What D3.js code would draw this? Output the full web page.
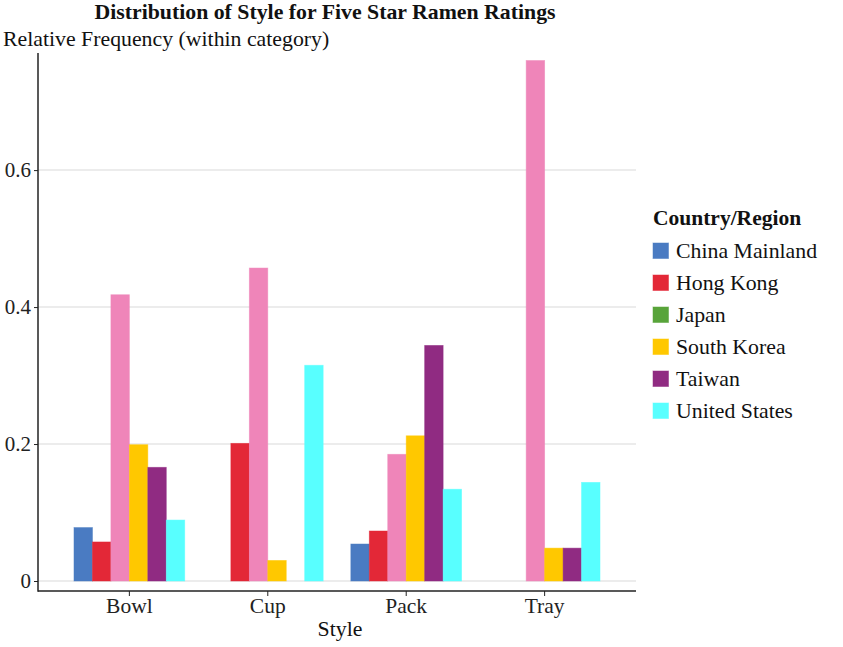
<!DOCTYPE html>
<html>
<head>
<meta charset="utf-8">
<script src="https://cdn.jsdelivr.net/npm/d3@7"></script>
<style>
  body { margin: 0; background: #fff; }
  text { font-family: "Liberation Serif", "Times New Roman", serif; }
</style>
</head>
<body>
<div id="viz"></div>
<script>
const width = 843, height = 647;

const styles = ["Bowl", "Cup", "Pack", "Tray"];
const countries = ["China Mainland", "Hong Kong", "Japan", "South Korea", "Taiwan", "United States"];
const legendColors = ["#4a7bc2", "#e32837", "#58a43a", "#ffc800", "#902b82", "#58ffff"];
// the bars for Japan are drawn pink in the source, while its legend swatch is green
const barColors = ["#4a7bc2", "#e32837", "#ef85b9", "#ffc800", "#902b82", "#58ffff"];

const chinaMainland = [0.078, 0, 0.054, 0];
const hongKong = [0.057, 0.201, 0.073, 0];
const japan = [0.418, 0.457, 0.185, 0.760];
const southKorea = [0.199, 0.030, 0.212, 0.048];
const taiwan = [0.166, 0, 0.344, 0.048];
const unitedStates = [0.089, 0.315, 0.134, 0.144];
const seriesValues = [chinaMainland, hongKong, japan, southKorea, taiwan, unitedStates];

const yTicks = [0, 0.2, 0.4, 0.6];

const svg = d3.select("#viz").append("svg").attr("width", width).attr("height", height);
const margin = {top: 53, right: 207, bottom: 56, left: 38};
const plotRight = width - margin.right;
const zeroY = 581, axisY = 591;

const x = d3.scaleBand().domain(styles).range([margin.left, plotRight])
  .paddingInner(0.2).paddingOuter(0.26);
const xs = d3.scaleBand().domain(countries).range([0, x.bandwidth()]);
const y = d3.scaleLinear().domain([0, 0.771]).range([zeroY, margin.top]);

// grid
svg.append("g").selectAll("line").data(yTicks).join("line")
  .attr("x1", margin.left).attr("x2", plotRight)
  .attr("y1", d => y(d)).attr("y2", d => y(d))
  .attr("stroke", "#e6e6e6").attr("stroke-width", 1.5);

// bars
const rows = [];
styles.forEach((s, i) => countries.forEach((c, j) => {
  if (seriesValues[j][i] > 0) rows.push({style: s, country: c, value: seriesValues[j][i], color: barColors[j]});
}));
svg.append("g").selectAll("rect").data(rows).join("rect")
  .attr("x", d => x(d.style) + xs(d.country))
  .attr("width", xs.bandwidth())
  .attr("y", d => y(d.value))
  .attr("height", d => y(0) - y(d.value))
  .attr("fill", d => d.color)
  .attr("stroke", d => d.color).attr("stroke-opacity", 0.6).attr("stroke-width", 0.8);

// y axis
const yAxis = svg.append("g").attr("transform", `translate(${margin.left},0)`)
  .call(d3.axisLeft(y).tickValues(yTicks).tickFormat(d => d === 0 ? "0" : d3.format(".1f")(d)).tickSize(4).tickPadding(3));
yAxis.select(".domain").remove();
yAxis.selectAll("text").attr("font-size", 21).attr("fill", "#222").style("font-family", "Liberation Serif, serif");
yAxis.selectAll(".tick line").attr("stroke", "#222");
svg.append("line").attr("x1", margin.left).attr("x2", margin.left)
  .attr("y1", margin.top).attr("y2", axisY + 0.75).attr("stroke", "#222").attr("stroke-width", 1.5);

// x axis
const xAxis = svg.append("g").attr("transform", `translate(0,${axisY})`)
  .call(d3.axisBottom(x).tickSize(5).tickPadding(2));
xAxis.select(".domain").remove();
xAxis.selectAll("text").attr("font-size", 21.5).attr("fill", "#222").style("font-family", "Liberation Serif, serif");
xAxis.selectAll(".tick line").attr("stroke", "#222");
svg.append("line").attr("x1", margin.left).attr("x2", plotRight)
  .attr("y1", axisY).attr("y2", axisY).attr("stroke", "#222").attr("stroke-width", 1.5);

// titles
svg.append("text").attr("x", 325).attr("y", 19).attr("text-anchor", "middle")
  .attr("font-size", 21.8).attr("font-weight", "bold").attr("fill", "#111")
  .text("Distribution of Style for Five Star Ramen Ratings");
svg.append("text").attr("x", 3).attr("y", 46).attr("font-size", 21.8).attr("fill", "#111")
  .text("Relative Frequency (within category)");
svg.append("text").attr("x", 340).attr("y", 636).attr("text-anchor", "middle")
  .attr("font-size", 21.8).attr("fill", "#111").text("Style");

// legend
const legend = svg.append("g").attr("transform", "translate(653,0)");
legend.append("text").attr("x", 0).attr("y", 225).attr("font-size", 21.5).attr("font-weight", "bold")
  .attr("fill", "#111").text("Country/Region");
const item = legend.selectAll("g.item").data(countries).join("g").attr("class", "item")
  .attr("transform", (d, i) => `translate(0,${251 + i * 32})`);
item.append("rect").attr("x", 0).attr("y", -8).attr("width", 15.5).attr("height", 15.5)
  .attr("fill", (d, i) => legendColors[i]).attr("stroke", (d, i) => legendColors[i]).attr("stroke-opacity", 0.5);
item.append("text").attr("x", 23).attr("y", 7).attr("font-size", 21.8).attr("fill", "#111").text(d => d);
</script>
</body>
</html>
